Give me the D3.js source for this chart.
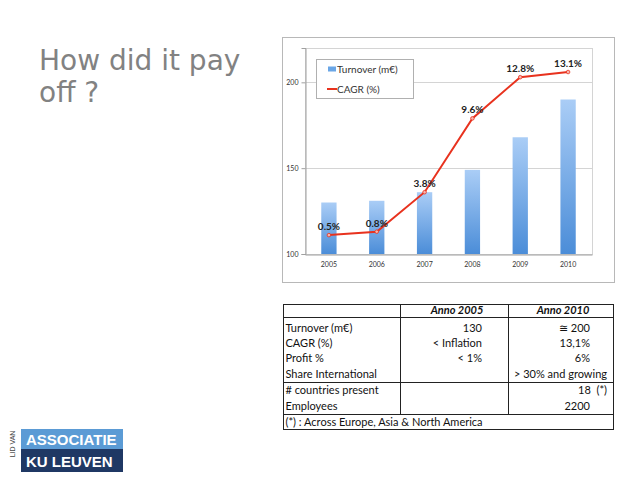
<!DOCTYPE html>
<html>
<head>
<meta charset="utf-8">
<script src="https://cdn.jsdelivr.net/npm/d3@7"></script>
<style>
  body { margin: 0; background: #fff; }
  svg { display: block; }
</style>
</head>
<body>
<svg id="slide" width="638" height="478"></svg>
<script>
// chart data
const years = ['2005', '2006', '2007', '2008', '2009', '2010']
const turnover = [130, 131, 136, 149, 168, 190]
// CAGR line is drawn on the turnover axis in the original slide
const cagrLevel = [111, 113, 136, 179, 203, 206]
const cagrLabels = ['0.5%', '0.8%', '3.8%', '9.6%', '12.8%', '13.1%']
const yTicks = [100, 150, 200]
const legendLabels = ['Turnover (m€)', 'CAGR (%)']

// table data
const tableHeader = ['', 'Anno 2005', 'Anno 2010']
const rowLabels = ['Turnover (m€)', 'CAGR (%)', 'Profit %', 'Share International', '# countries present', 'Employees']
const col2005 = ['130', '< Inflation', '< 1%', '', '', '']
const col2010 = ['≅ 200', '13,1%', '6%', '> 30% and growing', '18  (*)', '2200']
const tableNote = '(*) : Across Europe, Asia & North America'

const svg = d3.select('#slide')
const chartFont = 'Lato, "Open Sans", sans-serif'

// title
svg.append('text')
  .attr('x', 39).attr('y', 70)
  .attr('font-family', '"DejaVu Sans", Verdana, sans-serif')
  .attr('font-size', 28)
  .attr('fill', '#828282')
  .selectAll('tspan')
  .data(['How did it pay', 'off ?'])
  .join('tspan')
  .attr('x', 39)
  .attr('dy', (d, i) => i === 0 ? 0 : 32)
  .text(d => d)

// ---------- chart ----------
svg.append('rect')
  .attr('x', 282.5).attr('y', 37.5)
  .attr('width', 332).attr('height', 245)
  .attr('fill', '#fff').attr('stroke', '#b8b8b8')

const plot = { left: 305, top: 48, right: 592, bottom: 254 }

const x = d3.scaleBand()
  .domain(years)
  .range([plot.left, plot.right])
  .paddingInner(0.68)
  .paddingOuter(0.34)

const y = d3.scaleLinear()
  .domain([100, 220])
  .range([plot.bottom, plot.top])

const defs = svg.append('defs')
const grad = defs.append('linearGradient')
  .attr('id', 'barGrad')
  .attr('x1', 0).attr('y1', 0).attr('x2', 0).attr('y2', 1)
grad.append('stop').attr('offset', '0%').attr('stop-color', '#aacdf6')
grad.append('stop').attr('offset', '100%').attr('stop-color', '#4b8dd8')

// plot frame and grid
svg.append('rect')
  .attr('x', plot.left + 0.5).attr('y', plot.top + 0.5)
  .attr('width', plot.right - plot.left).attr('height', plot.bottom - plot.top)
  .attr('fill', 'none').attr('stroke', '#d4d4d4')

svg.append('g')
  .selectAll('line')
  .data(yTicks.slice(1))
  .join('line')
  .attr('x1', plot.left).attr('x2', plot.right)
  .attr('y1', d => Math.round(y(d)) + 0.5).attr('y2', d => Math.round(y(d)) + 0.5)
  .attr('stroke', '#d4d4d4')

// bars
svg.append('g')
  .selectAll('rect')
  .data(turnover)
  .join('rect')
  .attr('x', (d, i) => x(years[i]))
  .attr('y', d => y(d))
  .attr('width', x.bandwidth())
  .attr('height', d => y(100) - y(d))
  .attr('fill', 'url(#barGrad)')

// axes
const yAxis = svg.append('g')
  .attr('transform', 'translate(' + (plot.left + 0.5) + ',0)')
  .call(d3.axisLeft(y).tickValues(yTicks).tickSize(4).tickPadding(3))
yAxis.select('.domain').attr('stroke', '#a0a0a0')
yAxis.selectAll('.tick line').attr('stroke', '#a0a0a0')
yAxis.selectAll('text').attr('font-size', 7).attr('fill', '#333').attr('font-family', chartFont)

const xAxis = svg.append('g')
  .attr('transform', 'translate(0,' + (plot.bottom + 0.5) + ')')
  .call(d3.axisBottom(x).tickSize(0).tickPadding(8))
xAxis.select('.domain').attr('stroke', '#a0a0a0')
xAxis.selectAll('text').attr('font-size', 7).attr('fill', '#333').attr('font-family', chartFont)

// CAGR line
const line = d3.line()
  .x((d, i) => x(years[i]) + x.bandwidth() / 2)
  .y(d => y(d))

svg.append('path')
  .datum(cagrLevel)
  .attr('d', line)
  .attr('fill', 'none')
  .attr('stroke', '#e8321e')
  .attr('stroke-width', 2)

svg.append('g')
  .selectAll('circle')
  .data(cagrLevel)
  .join('circle')
  .attr('cx', (d, i) => x(years[i]) + x.bandwidth() / 2)
  .attr('cy', d => y(d))
  .attr('r', 1.8)
  .attr('fill', '#f7b3ab')
  .attr('stroke', '#e8321e')
  .attr('stroke-width', 0.8)

svg.append('g')
  .selectAll('text')
  .data(cagrLevel)
  .join('text')
  .attr('x', (d, i) => x(years[i]) + x.bandwidth() / 2)
  .attr('y', d => y(d) - 5)
  .attr('text-anchor', 'middle')
  .attr('font-family', chartFont)
  .attr('font-weight', 'bold')
  .attr('font-size', 10)
  .attr('fill', '#222')
  .text((d, i) => cagrLabels[i])

// legend
const legend = svg.append('g').attr('transform', 'translate(316,59)')
legend.append('rect')
  .attr('x', 0.5).attr('y', 0.5)
  .attr('width', 97).attr('height', 39)
  .attr('fill', '#fff').attr('stroke', '#b0b0b0')
legend.append('rect')
  .attr('x', 12).attr('y', 7.5)
  .attr('width', 8).attr('height', 5)
  .attr('fill', '#6aa6e6')
legend.append('line')
  .attr('x1', 11).attr('x2', 21).attr('y1', 30).attr('y2', 30)
  .attr('stroke', '#e8321e').attr('stroke-width', 2)
legend.selectAll('text.item')
  .data(legendLabels)
  .join('text')
  .attr('class', 'item')
  .attr('x', 21)
  .attr('y', (d, i) => 14 + i * 20)
  .attr('font-family', chartFont)
  .attr('font-size', 10)
  .attr('fill', '#333')
  .text(d => d)

// ---------- table ----------
const table = { left: 283.5, right: 613.5, top: 304.5, bottom: 429.5 }
const colX = [table.left, 400.5, 508.5]
const rowY = [328, 343, 358, 374, 390, 406]
const tfont = 'Lato, "Open Sans", sans-serif'
const tg = svg.append('g')

tg.append('rect')
  .attr('x', table.left).attr('y', table.top)
  .attr('width', table.right - table.left).attr('height', table.bottom - table.top)
  .attr('fill', '#fff').attr('stroke', '#222')

tg.selectAll('line.h')
  .data([317.5, 382.5, 414.5])
  .join('line')
  .attr('class', 'h')
  .attr('x1', table.left).attr('x2', table.right)
  .attr('y1', d => d).attr('y2', d => d)
  .attr('stroke', '#222')

tg.selectAll('line.v')
  .data(colX.slice(1))
  .join('line')
  .attr('class', 'v')
  .attr('x1', d => d).attr('x2', d => d)
  .attr('y1', table.top).attr('y2', 414.5)
  .attr('stroke', '#222')

tg.selectAll('text.head')
  .data(tableHeader)
  .join('text')
  .attr('class', 'head')
  .attr('x', (d, i) => [0, 457, 563][i])
  .attr('y', 314)
  .attr('text-anchor', 'middle')
  .attr('font-family', tfont)
  .attr('font-size', 11)
  .attr('font-weight', 'bold')
  .attr('font-style', 'italic')
  .attr('fill', '#111')
  .text(d => d)

tg.selectAll('text.lab')
  .data(rowLabels)
  .join('text')
  .attr('class', 'lab')
  .attr('x', 285.5)
  .attr('y', (d, i) => rowY[i] + 4)
  .attr('font-family', tfont)
  .attr('font-size', 11)
  .attr('fill', '#111')
  .text(d => d)

tg.selectAll('text.c1')
  .data(col2005)
  .join('text')
  .attr('class', 'c1')
  .attr('x', 482)
  .attr('y', (d, i) => rowY[i] + 4)
  .attr('text-anchor', 'end')
  .attr('font-family', tfont)
  .attr('font-size', 11)
  .attr('fill', '#111')
  .text(d => d)

tg.selectAll('text.c2')
  .data(col2010)
  .join('text')
  .attr('class', 'c2')
  .attr('x', (d, i) => (i === 3 || i === 4) ? 607 : 590)
  .attr('y', (d, i) => rowY[i] + 4)
  .attr('text-anchor', 'end')
  .attr('font-family', tfont)
  .attr('font-size', 11)
  .attr('fill', '#111')
  .attr('xml:space', 'preserve')
  .style('white-space', 'pre')
  .text(d => d)

tg.append('text')
  .attr('x', 285.5).attr('y', 426)
  .attr('font-family', tfont)
  .attr('font-size', 11)
  .attr('fill', '#111')
  .text(tableNote)

// ---------- logo ----------
const logo = svg.append('g')
logo.append('rect').attr('x', 21).attr('y', 429).attr('width', 102).attr('height', 20).attr('fill', '#5b9bd5')
logo.append('rect').attr('x', 21).attr('y', 449).attr('width', 102).attr('height', 23).attr('fill', '#1f3864')
logo.selectAll('text.brand')
  .data(['ASSOCIATIE', 'KU LEUVEN'])
  .join('text')
  .attr('class', 'brand')
  .attr('x', 26)
  .attr('y', (d, i) => i === 0 ? 445 : 467)
  .attr('font-family', '"Liberation Sans", Arial, sans-serif')
  .attr('font-weight', 'bold')
  .attr('font-size', 15)
  .attr('fill', '#fff')
  .text(d => d)
logo.append('text')
  .attr('transform', 'translate(15,444) rotate(-90)')
  .attr('text-anchor', 'middle')
  .attr('font-family', '"Liberation Sans", Arial, sans-serif')
  .attr('font-size', 7)
  .attr('fill', '#444')
  .text('LID VAN')
</script>
</body>
</html>
